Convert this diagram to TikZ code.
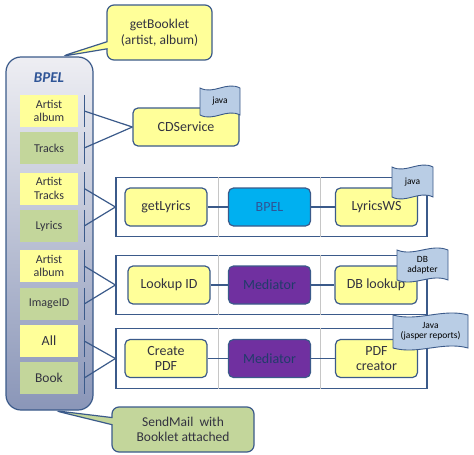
\documentclass[tikz,border=0pt]{standalone}
\usepackage{fontspec}
\setmainfont{Carlito}
\usetikzlibrary{shapes.callouts}
\definecolor{edge}{HTML}{3B5A8A}
\definecolor{yel}{HTML}{FFFF99}
\definecolor{grn}{HTML}{C3D69B}
\definecolor{txt}{HTML}{333340}
\definecolor{bpelblue}{HTML}{00B0F0}
\definecolor{medpurple}{HTML}{7030A0}
\definecolor{flagblue}{HTML}{B9CDE5}
\definecolor{titleblue}{HTML}{2F5597}
\definecolor{bpeltop}{HTML}{EEEEF3}
\definecolor{bpelbot}{HTML}{8A96B8}
\newcommand\rowl{207}
\newcommand\rowd{285}
\newcommand\rowp{358.5}
\newcommand\wavyflag[6]{%
  \draw[flag] (#2,#3) .. controls ({#2+(#4-#2)/3},{#3+7}) and ({#2+2*(#4-#2)/3},{#3-7}) .. (#4,#3)
    -- (#4,#5) .. controls ({#2+2*(#4-#2)/3},{#5-7}) and ({#2+(#4-#2)/3},{#5+7}) .. (#2,#5) -- cycle;
  \node at ({(#2+#4)/2},{(#3+#5)/2}) [flagtext] (#1) {#6};}

\begin{document}
\begin{tikzpicture}[x=1pt, y=-1pt,
    box/.style={draw=edge, line width=1.2pt, rounded corners=5pt, minimum width=82pt, minimum height=38pt, align=center, text=txt, font=\fontsize{14}{15.5}\selectfont},
    ybox/.style={box, fill=yel},
    slot/.style={minimum width=58pt, minimum height=32pt, inner sep=1pt, align=center, text=txt, font=\fontsize{12}{13.5}\selectfont},
    row/.style={draw=edge, line width=1.2pt, minimum width=311pt, minimum height=59pt},
    divider/.style={draw=gray!45, line width=0.8pt},
    link/.style={draw=edge, line width=1.2pt},
    bubble/.style={rectangle callout, draw=edge, line width=1.2pt, rounded corners=7pt, align=center, text=txt, font=\fontsize{13.5}{15.5}\selectfont},
    flag/.style={draw=edge, line width=0.9pt, fill=flagblue},
    flagtext/.style={align=center, text=black, font=\fontsize{9.5}{10.5}\selectfont, inner sep=0pt}]

    \useasboundingbox (0,0) rectangle (474,455);

    % BPEL process
    \node at (49.5, 233.5) [draw=edge, line width=1.2pt, rounded corners=15pt, minimum width=87pt, minimum height=353pt, top color=bpeltop, bottom color=bpelbot] (bpel) {};
    \node at (49, 78) [text=titleblue, font=\fontsize{15}{17}\selectfont\bfseries\itshape] (bpeltitle) {BPEL};

    \node at (49, 111) [slot, fill=yel] (a1) {Artist\\album};
    \node at (49, 148) [slot, fill=grn] (t1) {Tracks};
    \node at (49, 188.5) [slot, fill=yel] (a2) {Artist\\Tracks};
    \node at (49, 226) [slot, fill=grn] (l2) {Lyrics};
    \node at (49, 266) [slot, fill=yel] (a3) {Artist\\album};
    \node at (49, 304) [slot, fill=grn] (i3) {ImageID};
    \node at (49, 341) [slot, fill=yel, font=\fontsize{14}{15.5}\selectfont] (all) {All};
    \node at (49, 378) [slot, fill=grn, font=\fontsize{13.5}{15}\selectfont] (book) {Book};

    \foreach \s in {a1,t1,a2,l2,a3,i3,all,book}
        \draw[link] ([xshift=6]\s.north east) -- ([xshift=6]\s.south east);

    % callouts
    \node at (159.5, 32.5) [bubble, fill=yel, minimum width=105pt, minimum height=55pt, callout absolute pointer={([xshift=12]bpel.north)}] (getbk) {getBooklet\\(artist, album)};
    \node at (183, 429.5) [bubble, fill=grn, minimum width=142pt, minimum height=45pt, callout absolute pointer={([xshift=5]bpel.south)}] (mail) {SendMail~ with\\Booklet attached};

    % CD service
    \node at (186, 127) [ybox, minimum width=106pt] (cd) {CDService};
    \draw[link] ([xshift=6]a1.east) -- (cd.west);
    \draw[link] ([xshift=6]t1.east) -- (cd.west);

    % rows
    \node at (271.5, \rowl) [row] (ly) {};
    \node at (271.5, \rowd) [row] (db) {};
    \node at (271.5, \rowp) [row, minimum height=60pt] (pd) {};
    \foreach \r in {ly,db,pd} {
        \draw[divider] ([xshift=103]\r.north west) -- ([xshift=103]\r.south west);
        \draw[divider] ([xshift=205]\r.north west) -- ([xshift=205]\r.south west);
    }

    % Lyrics
    \node at (166, \rowl) [ybox] (getly) {getLyrics};
    \node at (269.5, \rowl) [box, fill=bpelblue, text=titleblue] (lybpel) {BPEL};
    \node at (376.5, \rowl) [ybox] (lyws) {LyricsWS};
    \draw[link] ([xshift=6]a2.east) -- (ly.west);
    \draw[link] ([xshift=6]l2.east) -- (ly.west);
    \draw[link] (getly) -- (lybpel);
    \draw[link] (lybpel) -- (lyws);

    % Lookup
    \node at (169, \rowd) [ybox] (lookup) {Lookup ID};
    \node at (269.5, \rowd) [box, fill=medpurple, text=titleblue!70!black] (dbmed) {Mediator};
    \node at (376, \rowd) [ybox] (dblook) {DB lookup};
    \draw[link] ([xshift=6]a3.east) -- (db.west);
    \draw[link] ([xshift=6]i3.east) -- (db.west);
    \draw[link] (lookup) -- (dbmed);
    \draw[link] (dbmed) -- (dblook);

    % PDF
    \node at (166, \rowp) [ybox] (mkpdf) {Create\\PDF};
    \node at (269.5, \rowp) [box, fill=medpurple, text=titleblue!70!black] (pdmed) {Mediator};
    \node at (376.5, \rowp) [ybox] (pdfcr) {PDF\\creator};
    \draw[link] ([xshift=6]all.east) -- (pd.west);
    \draw[link] ([xshift=6]book.east) -- (pd.west);
    \draw[link] (mkpdf) -- (pdmed);
    \draw[link] (pdmed) -- (pdfcr);

    % flags
    \wavyflag{cdjava}{200}{88}{240}{115}{java}
    \wavyflag{lyjava}{392}{167}{433}{197}{java}
    \wavyflag{dbadapt}{397}{250}{448}{280}{DB\\adapter}
    \wavyflag{jasper}{393}{315}{468}{348}{Java\\(jasper reports)}

\end{tikzpicture}
\end{document}
